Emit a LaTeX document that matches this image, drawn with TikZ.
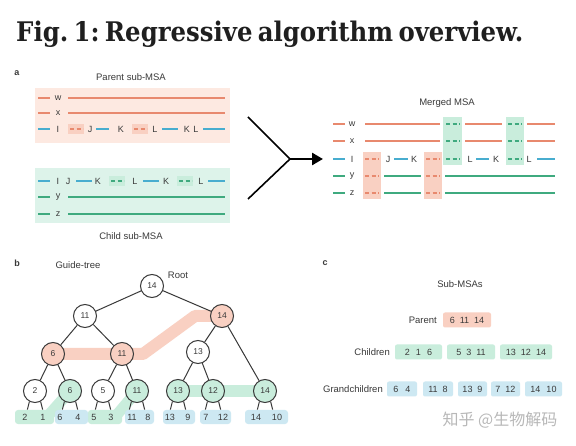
\documentclass[tikz,border=0pt]{standalone}
\usepackage{fontspec}
\setmainfont{Liberation Sans}
\newfontfamily\titlefont{DejaVu Serif}
\newfontfamily\cjkfont{Noto Sans CJK SC}
\usetikzlibrary{arrows.meta,backgrounds}
\definecolor{pinkL}{HTML}{E8896E}
\definecolor{pinkF}{HTML}{FDE9E1}
\definecolor{pinkB}{HTML}{F9D0C2}
\definecolor{greenL}{HTML}{3FAA7F}
\definecolor{greenF}{HTML}{DDF3EA}
\definecolor{greenB}{HTML}{C9EDDC}
\definecolor{blueL}{HTML}{48ADCF}
\definecolor{blueF}{HTML}{CDE8F2}
\definecolor{txt}{HTML}{3A3A3A}
\tikzset{
  lbl/.style={inner sep=0pt, text=txt, font=\fontsize{9}{10}\selectfont},
  sm/.style={inner sep=0pt, text=txt, font=\fontsize{9.5}{10}\selectfont},
  seq/.style={line width=2pt},
  dsh/.style={line width=1.6pt, dash pattern=on 4pt off 2.5pt},
  tnode/.style={circle, draw=txt, line width=1pt, minimum size=23pt, inner sep=0pt, fill=white, text=txt, font=\fontsize{8.5}{9}\selectfont},
  tedge/.style={draw=txt, line width=1pt},
  band/.style={line width=12pt, line join=round},
  pill/.style={rounded corners=2pt, minimum height=15pt, inner sep=2pt, text=txt, font=\fontsize{9}{10}\selectfont},
  plabel/.style={inner sep=0pt, font=\bfseries\fontsize{9}{10}\selectfont, text=txt}
}
\begin{document}
\begin{tikzpicture}[x=1pt,y=-1pt]
\begin{scope}[on background layer]
\fill[white] (0,0) rectangle (576,446);
\end{scope}
\useasboundingbox (0,0) rectangle (576,446);

% title
\node[anchor=base west, inner sep=0pt, text=black!88] (title) at (16,42) {\resizebox{507pt}{20.5pt}{\titlefont\bfseries Fig.\hspace{0.22em}1:\hspace{0.22em}Regressive\hspace{0.22em}algorithm\hspace{0.22em}overview.}};

% ===== panel a =====
\node[plabel] (la) at (17,73) {a};
\node[sm] (parentT) at (131,77) {Parent sub-MSA};
\fill[pinkF] (35,88) rectangle (230,143);
\foreach \yy/\nm in {98/w,113/x}{
  \draw[pinkL, seq] (38,\yy) -- (50,\yy);
  \node[lbl] (p\nm) at (58,\yy) {\nm};
  \draw[pinkL, seq] (68,\yy) -- (225,\yy);
}
% parent row I
\draw[blueL, seq] (38,129) -- (50,129);
\node[lbl] (pI) at (58,129) {I};
\fill[pinkB] (68,124) rectangle (84,134);
\draw[pinkL, dsh] (70,129) -- (83,129);
\node[lbl] (pJ) at (90,129) {J};
\draw[blueL, seq] (96,129) -- (109,129);
\node[lbl] (pK1) at (121,129) {K};
\fill[pinkB] (132,124) rectangle (148,134);
\draw[pinkL, dsh] (134,129) -- (147,129);
\node[lbl] (pL1) at (155,129) {L};
\draw[blueL, seq] (162,129) -- (178,129);
\node[lbl] (pK2) at (187,129) {K};
\node[lbl] (pL2) at (196,129) {L};
\draw[blueL, seq] (203,129) -- (225,129);

\fill[greenF] (35,168) rectangle (230,223);
\draw[blueL, seq] (38,181) -- (50,181);
\node[lbl] (cI) at (58,181) {I};
\node[lbl] (cJ) at (68,181) {J};
\draw[blueL, seq] (76,181) -- (92,181);
\node[lbl] (cK1) at (98,181) {K};
\fill[greenB] (109,176) rectangle (125,186);
\draw[greenL, dsh] (111,181) -- (124,181);
\node[lbl] (cL1) at (135,181) {L};
\draw[blueL, seq] (143,181) -- (159,181);
\node[lbl] (cK2) at (166,181) {K};
\fill[greenB] (177,176) rectangle (193,186);
\draw[greenL, dsh] (179,181) -- (192,181);
\node[lbl] (cL2) at (201,181) {L};
\draw[blueL, seq] (208,181) -- (225,181);
\foreach \yy/\nm in {197/y,214/z}{
  \draw[greenL, seq] (38,\yy) -- (50,\yy);
  \node[lbl] (c\nm) at (58,\yy) {\nm};
  \draw[greenL, seq] (68,\yy) -- (225,\yy);
}
\node[sm] (childT) at (131,236) {Child sub-MSA};

% merge arrow
\coordinate (aTop) at (248,117);
\coordinate (aBot) at (248,199);
\coordinate (aMid) at (290,159);
\coordinate (aEnd) at (323,159);
\draw[line width=1.6pt, line join=miter] (aTop) -- (aMid) -- (aBot);
\draw[line width=2.6pt, -{Triangle[length=11pt,width=12pt]}] (aMid) -- (aEnd);

% merged MSA
\node[sm] (mergedT) at (447,103) {Merged MSA};
\fill[greenB] (443,117) rectangle (462,165);
\fill[greenB] (506,117) rectangle (524,165);
\fill[pinkB] (363,152) rectangle (381,199);
\fill[pinkB] (424,152) rectangle (442,199);
\foreach \yy/\nm in {124/w,141/x}{
  \draw[pinkL, seq] (333,\yy) -- (345,\yy);
  \node[lbl] (m\nm) at (352,\yy) {\nm};
  \draw[pinkL, seq] (365,\yy) -- (440,\yy);
  \draw[pinkL, seq] (465,\yy) -- (502,\yy);
  \draw[pinkL, seq] (527,\yy) -- (555,\yy);
}
\foreach \yy in {124,141,159}{
  \draw[greenL, dsh] (446,\yy) -- (460,\yy);
  \draw[greenL, dsh] (508,\yy) -- (522,\yy);
}
\foreach \yy in {159,176,193}{
  \draw[pinkL, dsh] (365,\yy) -- (379,\yy);
  \draw[pinkL, dsh] (426,\yy) -- (440,\yy);
}
\draw[blueL, seq] (333,159) -- (345,159);
\node[lbl] (mI) at (352,159) {I};
\node[lbl] (mJ) at (388,159) {J};
\draw[blueL, seq] (394,159) -- (408,159);
\node[lbl] (mK1) at (414,159) {K};
\node[lbl] (mL1) at (470,159) {L};
\draw[blueL, seq] (476,159) -- (489,159);
\node[lbl] (mK2) at (496,159) {K};
\node[lbl] (mL2) at (529,159) {L};
\draw[blueL, seq] (537,159) -- (555,159);
\foreach \yy/\nm in {176/y,193/z}{
  \draw[greenL, seq] (333,\yy) -- (345,\yy);
  \node[lbl] (m\nm) at (352,\yy) {\nm};
  \draw[greenL, seq] (384,\yy) -- (421,\yy);
  \draw[greenL, seq] (445,\yy) -- (555,\yy);
}

% ===== panel b =====
\node[plabel] (lb) at (17,263) {b};
\node[sm] (gtT) at (78,265) {Guide-tree};
\node[sm] (rootT) at (178,275) {Root};

\node[tnode] (r) at (152,286) {14};
\node[tnode] (a1) at (85,316) {11};
\node[tnode, fill=pinkB] (b1) at (222,316) {14};
\node[tnode, fill=pinkB] (a2) at (53,354) {6};
\node[tnode, fill=pinkB] (a3) at (122,354) {11};
\node[tnode] (b2) at (198,352) {13};
\node[tnode] (l1) at (35,391) {2};
\node[tnode, fill=greenB] (l2) at (70,391) {6};
\node[tnode] (l3) at (103,391) {5};
\node[tnode, fill=greenB] (l4) at (137,391) {11};
\node[tnode, fill=greenB] (l5) at (178,391) {13};
\node[tnode, fill=greenB] (l6) at (213,391) {12};
\node[tnode, fill=greenB] (l7) at (265,391) {14};

\begin{scope}[on background layer]
\draw[pinkB, band] (a2.center) -- (143,354) -- (195,316) -- (b1.center);
\draw[greenB, band] (l5.center) -- (l7.center);
\draw[greenB, line width=11pt] (47,417) -- (l2.center);
\draw[greenB, line width=11pt] (115,417) -- (l4.center);
\fill[greenB, rounded corners=3pt] (15,410) rectangle (54,424);
\fill[greenB, rounded corners=3pt] (88,410) rectangle (122,424);
\fill[blueF, rounded corners=3pt] (55,410) rectangle (88,424);
\fill[blueF, rounded corners=3pt] (125,410) rectangle (154,424);
\fill[blueF, rounded corners=3pt] (163,410) rectangle (195,424);
\fill[blueF, rounded corners=3pt] (200,410) rectangle (231,424);
\fill[blueF, rounded corners=3pt] (245,410) rectangle (288,424);
\end{scope}

\foreach \p/\c in {r/a1,r/b1,a1/a2,a1/a3,b1/b2,b1/l7,a2/l1,a2/l2,a3/l3,a3/l4,b2/l5,b2/l6}{
  \draw[tedge] (\p) -- (\c);
}
% leaf legs
\foreach \l in {l1,l2,l3,l4,l5,l6,l7}{
  \draw[tedge] (\l.-118) -- ++(-2,8);
  \draw[tedge] (\l.-62) -- ++(2,8);
}
\foreach \xx/\t/\nm in {25/2/s1,43/1/s2,60/6/s3,78/4/s4,94/5/s5,111/3/s6,132/11/s7,148/8/s8,170/13/s9,188/9/s10,206/7/s11,223/12/s12,256/14/s13,277/10/s14}{
  \node[lbl] (\nm) at (\xx,417) {\t};
}

% ===== panel c =====
\node[plabel] (lc) at (325,263) {c};
\node[sm] (subT) at (460,284) {Sub-MSAs};
\node[sm, anchor=east] (parL) at (437,320) {Parent};
\node[pill, fill=pinkB, minimum width=48pt] (par) at (467,320) {6\hspace{5pt}11\hspace{5pt}14};
\node[sm, anchor=east] (chL) at (390,352) {Children};
\node[pill, fill=greenB, minimum width=47pt] (ch1) at (418.5,352) {2\hspace{6pt}1\hspace{6pt}6};
\node[pill, fill=greenB, minimum width=48pt] (ch2) at (471,352) {5\hspace{5pt}3\hspace{5pt}11};
\node[pill, fill=greenB, minimum width=52pt] (ch3) at (526,352) {13\hspace{5pt}12\hspace{5pt}14};
\node[sm, anchor=east] (gcL) at (383,389) {Grandchildren};
\node[pill, fill=blueF, minimum width=30pt] (g1) at (402,389) {6\hspace{7pt}4};
\node[pill, fill=blueF, minimum width=30pt] (g2) at (438,389) {11\hspace{5pt}8};
\node[pill, fill=blueF, minimum width=29pt] (g3) at (472.5,389) {13\hspace{5pt}9};
\node[pill, fill=blueF, minimum width=29pt] (g4) at (505.5,389) {7\hspace{5pt}12};
\node[pill, fill=blueF, minimum width=37pt] (g5) at (543.5,389) {14\hspace{6pt}10};

\node[inner sep=0pt, text=black!28, font=\fontsize{16}{18}\selectfont] (wm) at (500,420) {\cjkfont 知乎 @生物解码};
\end{tikzpicture}
\end{document}
